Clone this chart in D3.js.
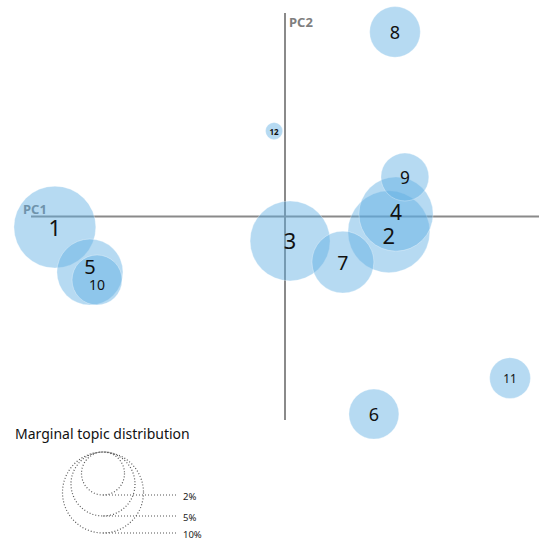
<!DOCTYPE html>
<html>
<head>
<meta charset="utf-8">
<script src="https://cdn.jsdelivr.net/npm/d3@7"></script>
<style>
  body { margin: 0; background: #fff; }
  text { font-family: "Noto Sans", "Open Sans", sans-serif; }
</style>
</head>
<body>
<svg></svg>
<script>
// topic ids, positions on the two principal components, marginal share (%)
const topics = ["1", "2", "3", "4", "5", "6", "7", "8", "9", "10", "11", "12"];
const pc1 = [-0.906, 0.409, 0.020, 0.437, -0.768, 0.350, 0.228, 0.433, 0.472, -0.740, 0.886, -0.043];
const pc2 = [-0.052, -0.075, -0.120, 0.012, -0.273, -0.971, -0.224, 0.907, 0.194, -0.312, -0.794, 0.420];
const marginal = [10.3, 10.3, 9.7, 8.0, 5.6, 3.0, 4.7, 3.1, 2.7, 3.0, 1.9, 0.8];

// legend
const legendPct = [2, 5, 10];
const legendLabels = ["2%", "5%", "10%"];

const width = 550, height = 545;

const svg = d3.select("svg")
  .attr("width", width)
  .attr("height", height);

const x = d3.scaleLinear().domain([-1, 1]).range([31, 539]);
const y = d3.scaleLinear().domain([-1, 1]).range([420, 13]);
// radius for a marginal share
const r = d3.scaleLinear().domain([0, 2, 5, 10, 15]).range([0, 21.5, 32, 40.5, 48]);
const fontSize = d3.scaleLinear().domain([9, 25, 41]).range([8, 18, 22]).clamp(true);

// labels of overlapping bubbles are pushed apart a little
const nudge = { "2": 4, "4": -2, "5": -6, "10": 5 };

// axes
svg.append("line")
  .attr("x1", x(-1)).attr("x2", x(1))
  .attr("y1", y(0)).attr("y2", y(0))
  .attr("stroke", "#8a8a8a").attr("stroke-width", 2);
svg.append("line")
  .attr("x1", x(0)).attr("x2", x(0))
  .attr("y1", y(1)).attr("y2", y(-1))
  .attr("stroke", "#8a8a8a").attr("stroke-width", 2);

svg.append("text")
  .attr("x", x(-1) - 8).attr("y", y(0) - 3)
  .attr("font-size", 13).attr("font-weight", "bold")
  .attr("fill", "#7f7f7f")
  .text("PC1");
svg.append("text")
  .attr("x", x(0) + 4).attr("y", y(1) + 14)
  .attr("font-size", 13).attr("font-weight", "bold")
  .attr("fill", "#7f7f7f")
  .text("PC2");

const data = topics.map((t, i) => ({ t, x: pc1[i], y: pc2[i], m: marginal[i] }));

// bubbles
svg.append("g")
  .selectAll("circle")
  .data(data)
  .join("circle")
  .attr("cx", d => x(d.x))
  .attr("cy", d => y(d.y))
  .attr("r", d => r(d.m))
  .attr("fill", "#5dade2")
  .attr("fill-opacity", 0.45)
  .attr("stroke", "#ffffff")
  .attr("stroke-opacity", 0.3)
  .attr("stroke-width", 1);

svg.append("g")
  .selectAll("text")
  .data(data)
  .join("text")
  .attr("x", d => x(d.x))
  .attr("y", d => y(d.y) + (nudge[d.t] || 0))
  .attr("text-anchor", "middle")
  .attr("dominant-baseline", "central")
  .attr("font-size", d => fontSize(r(d.m)) * (d.t.length > 1 && r(d.m) > 12 ? 0.78 : 1))
  .attr("font-weight", d => r(d.m) < 12 ? "bold" : "normal")
  .attr("fill", "#111")
  .text(d => d.t);

// legend
const lg = svg.append("g");
const lx = 103, ltop = 452;

lg.append("text")
  .attr("x", 15).attr("y", 439)
  .attr("font-size", 14)
  .attr("fill", "#111")
  .text("Marginal topic distribution");

lg.selectAll("circle")
  .data(legendPct)
  .join("circle")
  .attr("cx", lx)
  .attr("cy", d => ltop + r(d))
  .attr("r", d => r(d))
  .attr("fill", "none")
  .attr("stroke", "#555")
  .attr("stroke-width", 1.2)
  .attr("stroke-dasharray", "1,2");

lg.selectAll("line")
  .data(legendPct)
  .join("line")
  .attr("x1", lx).attr("x2", 178)
  .attr("y1", d => ltop + 2 * r(d))
  .attr("y2", d => ltop + 2 * r(d))
  .attr("stroke", "#555")
  .attr("stroke-width", 1.2)
  .attr("stroke-dasharray", "1,2");

lg.selectAll("text.lab")
  .data(legendPct)
  .join("text")
  .attr("class", "lab")
  .attr("x", 183)
  .attr("y", d => ltop + 2 * r(d) + 1)
  .attr("dominant-baseline", "central")
  .attr("font-size", 9.5)
  .attr("fill", "#222")
  .text((d, i) => legendLabels[i]);
</script>
</body>
</html>
